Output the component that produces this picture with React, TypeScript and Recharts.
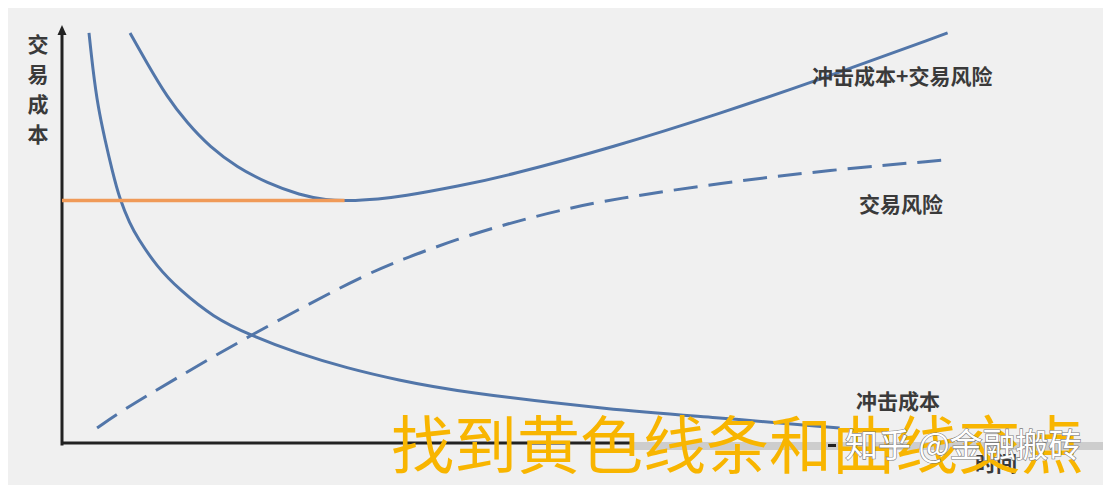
import React from 'react';
import { LineChart, Line, XAxis, YAxis, ReferenceLine, ReferenceDot } from 'recharts';

// 冲击成本 (impact cost)
const impactX = [3.0, 3.44, 4.0, 4.78, 5.56, 6.44, 7.56, 8.33, 10.56, 13.1, 16.8, 20.9, 26.1, 31.7, 37.2, 44.2, 61.3, 72.1, 86.4];
const impactY = [98.1, 89.2, 80.4, 72.5, 65.3, 58.1, 52.4, 49.3, 42.1, 36.6, 30.1, 25.8, 21.5, 17.9, 15.1, 12.2, 7.9, 6.2, 3.6];

// 冲击成本+交易风险 (total)
const totalX = [7.56, 9.44, 11.67, 13.89, 16.44, 19.44, 22.78, 26.44, 29.44, 31.67, 35.33, 37.6, 44.2, 49.4, 61.3, 73.2, 84.0, 98.4];
const totalY = [98.1, 90.9, 82.8, 76.6, 70.8, 66.0, 62.2, 59.3, 58.1, 57.9, 58.4, 58.9, 61.5, 63.9, 70.8, 78.9, 86.8, 98.1];

// 交易风险 (trading risk, dashed)
const riskX = [3.9, 6.78, 12.0, 20.9, 33.1, 37.6, 44.2, 49.4, 55.3, 61.3, 73.2, 85.2, 98.1];
const riskY = [3.6, 7.9, 14.6, 25.8, 39.7, 43.8, 49.0, 52.4, 55.7, 58.4, 62.2, 65.3, 67.7];

// 黄色线条 (orange horizontal line)
const levelX = [0, 31.4];
const levelY = [58.0, 58.0];

const yLabel = ['交', '易', '成', '本'];

const toData = (xs: number[], ys: number[]) => xs.map((x, i) => ({ x, y: ys[i] }));

const impactData = toData(impactX, impactY);
const totalData = toData(totalX, totalY);
const riskData = toData(riskX, riskY);
const levelData = toData(levelX, levelY);

const BLUE = '#5276a9';
const ORANGE = '#f09a58';
const LABEL_FONT = '"Noto Sans CJK SC", "Noto Sans", sans-serif';

export default function App() {
  return (
    <div style={{ position: 'relative', width: 1111, height: 493, margin: -8, background: '#050505', overflow: 'hidden' }}>
      <div style={{ position: 'absolute', left: 3, top: 3, width: 1104, height: 485, background: '#f0f0f0' }} />
      <div style={{ position: 'absolute', left: 0, top: 0 }}>
        <LineChart width={1111} height={493} margin={{ top: 25, right: 149, bottom: 50, left: 62 }}>
          <XAxis type="number" dataKey="x" domain={[0, 100]} hide allowDataOverflow />
          <YAxis type="number" dataKey="y" domain={[0, 100]} hide allowDataOverflow />
          <ReferenceLine segment={[{ x: 0, y: -0.6 }, { x: 0, y: 98 }]} stroke="#222" strokeWidth={3} ifOverflow="visible" />
          <ReferenceLine segment={[{ x: 0, y: 0 }, { x: 63.5, y: 0 }]} stroke="#222" strokeWidth={3} ifOverflow="visible" />
          <ReferenceDot
            x={0}
            y={100}
            ifOverflow="visible"
            shape={(p: any) => <path d={`M${p.cx},${p.cy} l-4.5,10 l9,0 z`} fill="#222" />}
          />
          <Line data={impactData} dataKey="y" type="basis" stroke={BLUE} strokeWidth={3} dot={false} isAnimationActive={false} />
          <Line data={riskData} dataKey="y" type="basis" stroke={BLUE} strokeWidth={3} strokeDasharray="24 11" dot={false} isAnimationActive={false} />
          <Line data={totalData} dataKey="y" type="basis" stroke={BLUE} strokeWidth={3} dot={false} isAnimationActive={false} />
          <Line data={levelData} dataKey="y" type="linear" stroke={ORANGE} strokeWidth={3.5} dot={false} isAnimationActive={false} />
        </LineChart>
      </div>
      <svg width={1111} height={493} style={{ position: 'absolute', left: 0, top: 0, pointerEvents: 'none' }}>
        {yLabel.map((c, i) => (
          <text key={c} x={38} y={43 + i * 30} textAnchor="middle" dominantBaseline="central" fontFamily={LABEL_FONT} fontWeight={700} fontSize={21} fill="#3a3a3a">{c}</text>
        ))}
        <text x={812} y={75} dominantBaseline="central" fontFamily={LABEL_FONT} fontWeight={700} fontSize={21} fill="#3a3a3a">冲击成本+交易风险</text>
        <text x={859} y={203} dominantBaseline="central" fontFamily={LABEL_FONT} fontWeight={700} fontSize={21} fill="#3a3a3a">交易风险</text>
        <text x={856} y={400} dominantBaseline="central" fontFamily={LABEL_FONT} fontWeight={700} fontSize={21} fill="#3a3a3a">冲击成本</text>
        <text x={975} y={462} dominantBaseline="central" fontFamily={LABEL_FONT} fontWeight={700} fontSize={21} fill="#3a3a3a">时间</text>
        <rect x={633} y={442} width={470} height={8} fill="#cdcdcd" />
        <rect x={828} y={444} width={8} height={3} fill="#222" />
        <text x={391} y={468} fontFamily={LABEL_FONT} fontSize={63} fill="#f8b500">找到黄色线条和曲线交点</text>
        <text x={845} y={457} fontFamily={LABEL_FONT} fontSize={33} fill="#ffffff" stroke="#7a7a7a" strokeWidth={1.2} paintOrder="stroke">知乎 @金融搬砖</text>
      </svg>
    </div>
  );
}
